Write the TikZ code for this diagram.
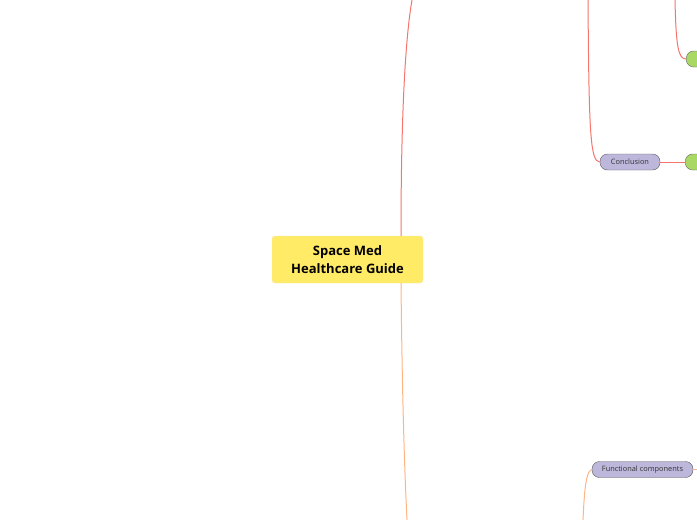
\documentclass[tikz,border=0pt]{standalone}
\usepackage{fontspec}
\setmainfont{Open Sans}
\definecolor{topicfill}{HTML}{FFEB66}
\definecolor{topicline}{HTML}{F7E9A6}
\definecolor{subfill}{HTML}{BDB7DB}
\definecolor{leaffill}{HTML}{A9D964}
\definecolor{redbranch}{HTML}{F4756D}
\definecolor{orangebranch}{HTML}{FFB482}

\begin{document}
\begin{tikzpicture} [x=1pt,y=-1pt,
  topic/.style= {draw=topicline,fill=topicfill,rounded corners=3pt,minimum width=151pt,minimum height=47pt,align=center,inner sep=0,font=\bfseries\fontsize{13}{18}\selectfont},
  sub/.style= {draw=black!65,fill=subfill,rounded corners=7.5pt,minimum height=16pt,inner sep=0,font=\fontsize{7.4}{8}\selectfont,text=black!80},
  leaf/.style= {draw=black!60,fill=leaffill,rounded corners=7.5pt,minimum height=16pt,minimum width=40pt,inner sep=0},
  redline/.style= {draw=redbranch,line width=1pt},
  orangeline/.style= {draw=orangebranch,line width=1pt}]
  \useasboundingbox (0,0) rectangle (697,520);
  \clip (0,0) rectangle (697,520);
  % Central topic
  {\node[topic] (guide) at (347.5,259.5) {Space Med\\Healthcare Guide};}
  % Branch nodes
  {\node[sub] [minimum width=60pt] (conclusion) at (630,162) {Conclusion};}
  {\node[sub] [minimum width=101pt] (functional) at (642.5,469.5) {Functional components};}
  % Leaves cut by the edge
  {\node[leaf] [anchor=west] (leafA) at (686,59) { };}
  {\node[leaf] [anchor=west] (leafB) at (685,162) { };}
  % Free ends at the border
  \coordinate (topend) at (412,0);
  \coordinate (bottomend) at (407,520);
  \coordinate (conclend) at (588,0);
  \coordinate (leafAend) at (675,0);
  \coordinate (funcend) at (583,520);
  \coordinate (funcright) at (697,469.5);
  % Connectors
  \draw[redline] ([xshift=53.5pt]guide.north) .. controls (401,120) and (405,40) .. (topend);
  \draw[orangeline] ([xshift=53.5pt]guide.south) .. controls (402,380) and (404,460) .. (bottomend);
  \draw[redline] (conclend) .. controls (589,130) and (590,162) .. (conclusion.west);
  \draw[redline] (leafAend) .. controls (676,45) and (678,59) .. (leafA.west);
  \draw[redline] (conclusion.east) -- (leafB.west);
  \draw[orangeline] (functional.west) .. controls (585,471) and (584,500) .. (funcend);
  \draw[orangeline] (functional.east) -- (funcright);
\end{tikzpicture}
\end{document}
